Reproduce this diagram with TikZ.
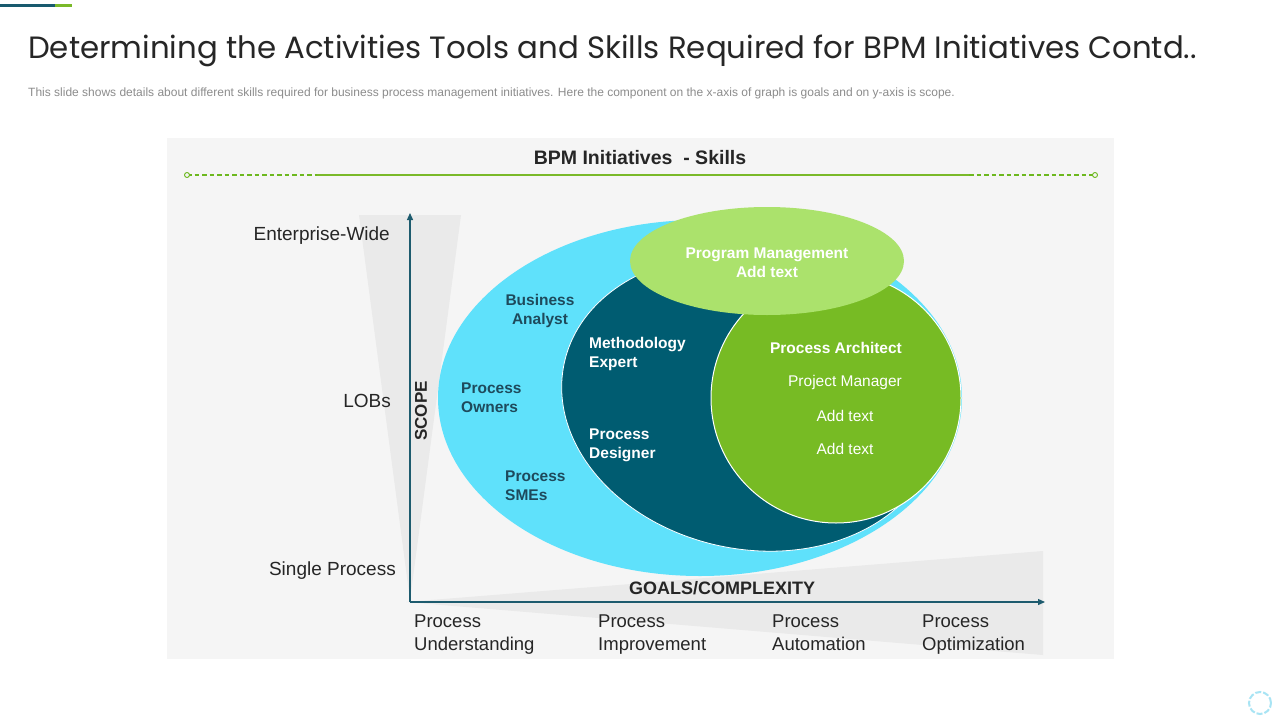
\documentclass[tikz,border=0pt]{standalone}
\usepackage{fontspec}
\setmainfont{Liberation Sans}
\newfontfamily\titlefont{Poppins}
\usetikzlibrary{arrows.meta}
\definecolor{barteal}{HTML}{185A6E}
\definecolor{bargreen}{HTML}{7AB929}
\definecolor{titlegray}{HTML}{262626}
\definecolor{subgray}{HTML}{8C8C8C}
\definecolor{panel}{HTML}{F5F5F5}
\definecolor{wedge}{HTML}{EAEAEA}
\definecolor{axiscol}{HTML}{1D5B6E}
\definecolor{cyanE}{HTML}{5FE1FB}
\definecolor{tealE}{HTML}{005C71}
\definecolor{greenC}{HTML}{77BB24}
\definecolor{progE}{HTML}{ABE26C}
\definecolor{darklbl}{HTML}{1E4A5C}
\definecolor{linegreen}{HTML}{7AB929}
\definecolor{dashgreen}{HTML}{6DB81E}
\definecolor{ringcol}{HTML}{A8E4F4}
\tikzset{
  ylbl/.style={font=\fontsize{19}{23}\selectfont, text=titlegray, inner sep=0pt},
  xlbl/.style={font=\fontsize{18.5}{23}\selectfont, text=titlegray, inner sep=0pt, align=left, anchor=north west},
  darkbold/.style={font=\bfseries\fontsize{15.5}{19}\selectfont, text=darklbl, inner sep=0pt, align=left},
  whitebold/.style={font=\bfseries\fontsize{15.5}{19}\selectfont, text=white, inner sep=0pt},
  whitereg/.style={font=\fontsize{15.5}{19}\selectfont, text=white, inner sep=0pt},
  axisarrow/.style={draw=axiscol, line width=1.3pt, -{Triangle[length=7pt,width=6pt]}},
  dashline/.style={dashgreen, line width=1.1pt, dash pattern=on 4.5pt off 3pt},
}
\begin{document}
\begin{tikzpicture}[x=1pt,y=-1pt]
\useasboundingbox (0,0) rectangle (1280,720);
\fill[white] (0,0) rectangle (1280,720);
% top bar
\fill[barteal] (0,4) rectangle (55,7);
\fill[bargreen] (55,4) rectangle (72,7);
% title
\node[anchor=base west, font=\titlefont\fontsize{30.8}{38}\selectfont, text=titlegray, inner sep=0pt] (title) at (28,58) {Determining the Activities Tools and Skills Required for BPM Initiatives Contd..};
\node[anchor=base west, font=\fontsize{12}{14}\selectfont, text=subgray, inner sep=0pt] (subtitle) at (28,96) {This slide shows details about different skills required for business process management initiatives. Here the component on the x-axis of graph is goals and on y-axis is scope.};
% panel
\fill[panel] (167,138) rectangle (1114,659);
\node[font=\bfseries\fontsize{19.5}{23}\selectfont, text=titlegray, inner sep=0pt] (ptitle) at (640,158) {BPM Initiatives\ \ - Skills};
% decorative line
\coordinate (lA) at (187,175);
\coordinate (lB) at (317,175);
\coordinate (lC) at (969,175);
\coordinate (lD) at (1095,175);
\draw[dashline] (lA) -- (lB);
\draw[dashline] (lC) -- (lD);
\draw[linegreen, line width=2pt] (lB) -- (lC);
\draw[dashgreen, line width=0.9pt, fill=panel] (lA) circle [radius=2.5pt];
\draw[dashgreen, line width=0.9pt, fill=panel] (lD) circle [radius=2.5pt];
% wedges
\fill[wedge] (359,215) -- (461,215) -- (410,600) -- cycle;
\fill[wedge] (406,602) -- (1043,551) -- (1043,655) -- cycle;
% ellipses
\fill[cyanE] (700,398) ellipse [x radius=262pt, y radius=178pt];
\filldraw[fill=tealE, draw=white, line width=0.8pt, rotate around={-12:(750,403)}] (750,403) ellipse [x radius=190pt, y radius=146pt];
\filldraw[fill=greenC, draw=white, line width=1pt] (836,398) circle [radius=125pt];
\fill[progE] (767,261) ellipse [x radius=137pt, y radius=54pt];
% axes
\coordinate (origin) at (410,602);
\coordinate (ytop) at (410,213);
\coordinate (xend) at (1045,602);
\draw[axisarrow] (origin) -- (ytop);
\draw[axisarrow] (origin) -- (xend);
\node[font=\bfseries\fontsize{17}{20}\selectfont, text=titlegray, rotate=90, inner sep=0pt] (scope) at (421,411) {SCOPE};
\node[font=\bfseries\fontsize{18}{21}\selectfont, text=titlegray, inner sep=0pt] (goals) at (722,588) {GOALS/COMPLEXITY};
% y labels
\node[ylbl, anchor=base east] (ew) at (390,240) {Enterprise-Wide};
\node[ylbl, anchor=base east] (lobs) at (391,407) {LOBs};
\node[ylbl, anchor=base east] (sp) at (396,575) {Single Process};
% x labels
\node[xlbl] (x1) at (414,615) {Process\\Understanding};
\node[xlbl] (x2) at (598,615) {Process\\Improvement};
\node[xlbl] (x3) at (772,615) {Process\\Automation};
\node[xlbl] (x4) at (922,615) {Process\\Optimization};
% ellipse labels
\node[darkbold, align=center] (ba) at (540,311) {Business\\Analyst};
\node[darkbold, anchor=west] (po) at (461,398) {Process\\Owners};
\node[darkbold, anchor=west] (sme) at (505,486) {Process\\SMEs};
\node[whitebold, anchor=west, align=left] (me) at (589,354) {Methodology\\Expert};
\node[whitebold, anchor=west, align=left] (pd) at (589,445) {Process\\Designer};
\node[whitebold, align=center] (pm) at (767,263) {Program Management\\Add text};
\node[whitebold] (pa) at (836,348) {Process Architect};
\node[whitereg] (prm) at (845,382) {Project Manager};
\node[whitereg] (at1) at (845,416) {Add text};
\node[whitereg] (at2) at (845,449) {Add text};
% loading ring
\draw[ringcol, line width=2pt, dash pattern=on 6pt off 2pt] (1260,703) circle [radius=11pt];
\end{tikzpicture}
\end{document}
